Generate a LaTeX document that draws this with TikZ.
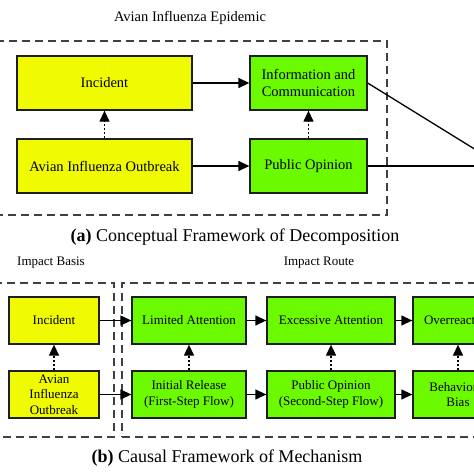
\documentclass[tikz,border=0pt]{standalone}
\usepackage{fontspec}
\setmainfont{Liberation Serif}
\usetikzlibrary{arrows.meta}
\definecolor{boxyellow}{RGB}{240,250,0}
\definecolor{boxgreen}{RGB}{108,250,0}
\definecolor{edgegray}{RGB}{30,30,30}
\tikzset{
  basebox/.style={draw=edgegray, line width=1.3pt, rectangle, inner sep=0pt, align=center},
  ybig/.style={basebox, fill=boxyellow, font=\fontsize{14.5}{17.5}\selectfont},
  gbig/.style={basebox, fill=boxgreen, font=\fontsize{14.5}{17.5}\selectfont},
  ysmall/.style={basebox, fill=boxyellow, font=\fontsize{13}{15.5}\selectfont},
  gsmall/.style={basebox, fill=boxgreen, font=\fontsize{13}{15.5}\selectfont},
  solidarrow/.style={line width=1.3pt, -{Triangle[length=11pt,width=10pt]}},
  dotarrow/.style={line width=1.3pt, dash pattern=on 2pt off 2pt, -{Triangle[length=11pt,width=10pt]}},
  plainline/.style={line width=1.3pt},
  group/.style={draw=black!75, line width=1.3pt, dash pattern=on 8pt off 5pt},
  heading/.style={font=\fontsize{14.5}{17}\selectfont},
  subheading/.style={font=\fontsize{13}{15}\selectfont},
  caption/.style={font=\fontsize{18}{21}\selectfont}
}
\begin{document}
\begin{tikzpicture}[x=1pt,y=-1pt]
\useasboundingbox (0,0) rectangle (474,474);
\clip (0,0) rectangle (474,474);
\fill[white] (0,0) rectangle (474,474);

% ---------- (a) ----------
\node[heading] (ttlA) at (190,18) {Avian Influenza Epidemic};
\node[group, minimum width=392pt, minimum height=174pt] (grpA) at (191,128) {};

\node[ybig, minimum width=175pt, minimum height=54pt] (incA) at (104.5,83) {Incident};
\node[ybig, minimum width=175pt, minimum height=54pt] (outA) at (104.5,166) {Avian Influenza Outbreak};
\node[gbig, minimum width=117pt, minimum height=54pt] (info) at (308.5,83) {Information and\\Communication};
\node[gbig, minimum width=117pt, minimum height=54pt] (poA) at (308.5,166) {Public Opinion};
\coordinate (conv) at (502,166);

\draw[solidarrow] (incA) -- (info);
\draw[solidarrow] (outA) -- (poA);
\draw[dotarrow] (outA) -- (incA);
\draw[dotarrow] (poA) -- (info);
\draw[plainline] (info.east) -- (conv);
\draw[plainline] (poA.east) -- (conv);

\node[caption] (capA) at (235,237) {\textbf{(a)} Conceptual Framework of Decomposition};

% ---------- (b) ----------
\node[subheading] (ttlB1) at (51,263) {Impact Basis};
\node[subheading] (ttlB2) at (319,263) {Impact Route};
\node[group, minimum width=124pt, minimum height=154pt] (grpB1) at (52,360) {};
\node[group, minimum width=360pt, minimum height=154pt] (grpB2) at (302,360) {};

\node[ysmall, minimum width=90pt, minimum height=47pt] (incB) at (54,320.5) {Incident};
\node[ysmall, minimum width=90pt, minimum height=47pt] (outB) at (54,394.5) {Avian\\Influenza\\Outbreak};
\node[gsmall, minimum width=114pt, minimum height=47pt] (lim) at (189,320.5) {Limited Attention};
\node[gsmall, minimum width=128pt, minimum height=47pt] (exc) at (331,320.5) {Excessive Attention};
\node[gsmall, minimum width=90pt, minimum height=47pt] (ovr) at (458,320.5) {Overreaction};
\node[gsmall, minimum width=114pt, minimum height=47pt] (ini) at (189,394.5) {Initial Release\\(First-Step Flow)};
\node[gsmall, minimum width=128pt, minimum height=47pt] (poB) at (331,394.5) {Public Opinion\\(Second-Step Flow)};
\node[gsmall, minimum width=90pt, minimum height=47pt] (beh) at (458,394.5) {Behavioral\\Bias};

\draw[solidarrow] (incB) -- (lim);
\draw[solidarrow] (outB) -- (ini);
\draw[solidarrow] (lim) -- (exc);
\draw[solidarrow] (exc) -- (ovr);
\draw[solidarrow] (ini) -- (poB);
\draw[solidarrow] (poB) -- (beh);
\draw[dotarrow] (outB) -- (incB);
\draw[dotarrow] (ini) -- (lim);
\draw[dotarrow] (poB) -- (exc);
\draw[dotarrow] (beh) -- (ovr);

\node[caption] (capB) at (227,458) {\textbf{(b)} Causal Framework of Mechanism};
\end{tikzpicture}
\end{document}
